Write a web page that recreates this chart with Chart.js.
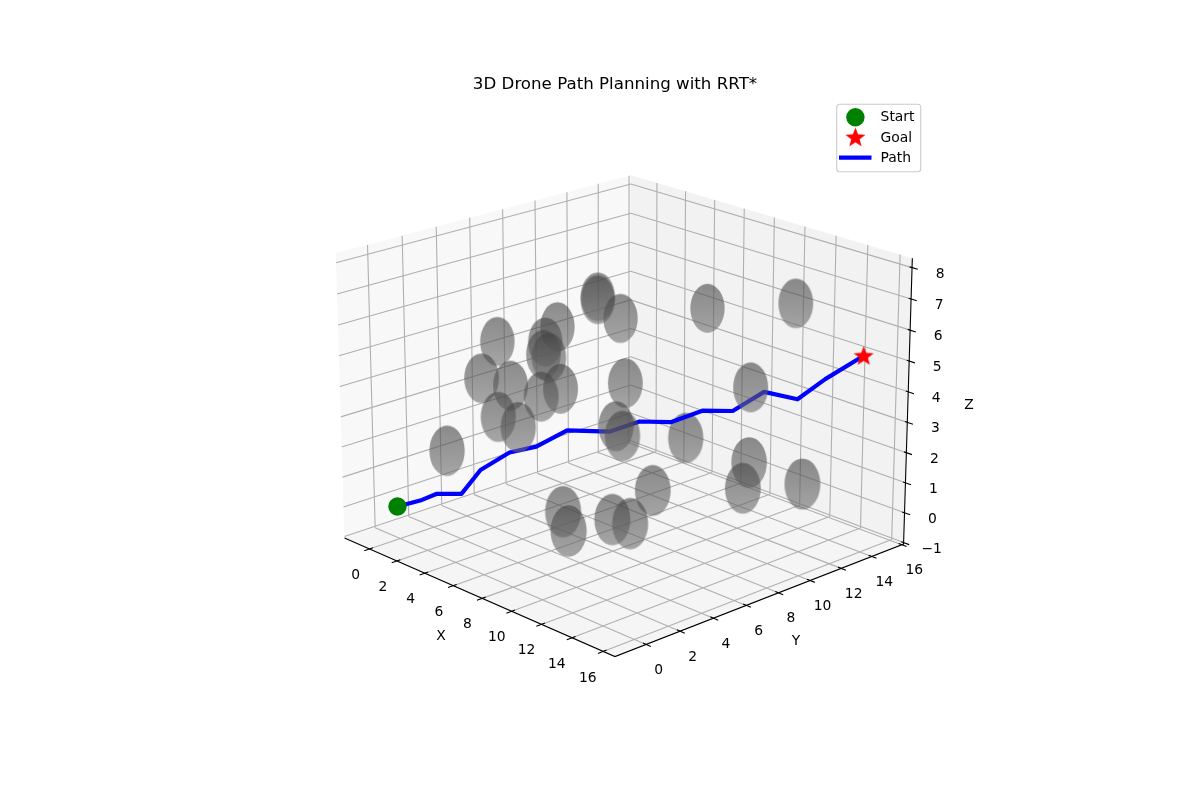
<!DOCTYPE html><html><head><meta charset="utf-8"><style>html,body{margin:0;padding:0;background:#fff}canvas{display:block}</style>
<script src="https://cdn.jsdelivr.net/npm/chart.js"></script></head><body><canvas id="c" width="1200" height="810"></canvas>
<script>
// ---------- data ----------
const xTicks=[0,2,4,6,8,10,12,14,16];
const yTicks=[0,2,4,6,8,10,12,14,16];
const zTicks=[-1,0,1,2,3,4,5,6,7,8];
const xLim=[-1.85,16.75],yLim=[-1.8,16.12],zLim=[-1.05,8.3];
const obsX=[2.0,2.0,3.8,6.2,10.6,1.67,1.8,2.45,2.27,0.17,1.27,2.75,4.37,3.74,3.37,4.55,6.0,10.63,2.8,7.27,8.0,10.03,13.08,13.9,15.83,11.0,9.17,9.87,10.77,11.33];
const obsY=[10.5,10.5,10.3,13.6,15.0,8.27,7.4,7.05,6.87,5.87,3.97,4.45,6.07,5.44,3.17,3.35,8.6,12.13,0.6,6.87,6.6,8.63,9.68,8.5,10.33,5.7,1.97,1.67,3.47,4.03];
const obsZ=[5.5,5.6,5.2,5.4,6.05,4.9,4.55,4.2,4.3,4.55,3.83,3.76,3.66,3.4,3.06,2.9,3.7,3.76,2.3,2.8,2.66,2.6,2.17,1.7,1.86,1.6,1.26,0.83,1.03,0.9];
const obsRadius=0.8;
const obsInFrontOfPath=[15,17,19,20];
const pathX=[0.02,0.84,1.34,2.14,2.77,3.77,4.64,5.64,7.05,8.03,9.03,10.07,11.07,12.07,13.17,14.07,15.28];
const pathY=[-0.13,0.66,1.14,1.94,2.57,3.47,4.34,5.34,6.65,7.63,8.63,9.62,10.57,11.57,12.62,13.47,14.68];
const pathZ=[0.06,0.29,0.5,0.5,1.3,1.9,2.1,2.64,2.62,2.96,2.94,3.33,3.33,3.96,3.73,4.4,5.16];
const titleText='3D Drone Path Planning with RRT*';
const axisNames=['X','Y','Z'];

// ---------- matplotlib-style 3D projection ----------
const ELEV=20,AZIM=-43.4;
const k=1.8294640721620434*25/24/Math.sqrt(41),box=[4*k,4*k,3*k*1.008];
const e=ELEV*Math.PI/180,a=AZIM*Math.PI/180;
const w=[Math.cos(e)*Math.cos(a),Math.cos(e)*Math.sin(a),Math.sin(e)];
const nrm=t=>{const n=Math.hypot(...t);return t.map(c=>c/n)};
const cross=(p,q)=>[p[1]*q[2]-p[2]*q[1],p[2]*q[0]-p[0]*q[2],p[0]*q[1]-p[1]*q[0]];
const dot=(p,q)=>p[0]*q[0]+p[1]*q[1]+p[2]*q[2];
const u=nrm(cross([0,0,1],w)),v=cross(w,u);
const lims=[xLim,yLim,zLim],sc=lims.map((l,i)=>box[i]/(l[1]-l[0]));
function viewVec(x,y,z){return [x,y,z].map((c,i)=>(c-lims[i][0])*sc[i]-box[i]/2-10*w[i])}
function P(x,y,z){const q=viewVec(x,y,z),d=-dot(q,w);return {x:dot(q,u)/d,y:dot(q,v)/d}}
const [x0,x1]=xLim,[y0,y1]=yLim,[z0,z1]=zLim;
const seg=(list,A,B)=>{list.push(P(...A),P(...B),{x:null,y:null})};
const poly=pts=>pts.map(p=>P(...p));

// ---------- frame ----------
const grid=[],ticks=[];
xTicks.forEach(t=>{seg(grid,[t,y0,z0],[t,y1,z0]);seg(grid,[t,y1,z0],[t,y1,z1]);seg(ticks,[t,y0-.3,z0],[t,y0+.2,z0])});
yTicks.forEach(t=>{seg(grid,[x1,t,z0],[x0,t,z0]);seg(grid,[x0,t,z0],[x0,t,z1]);seg(ticks,[x1-.2,t,z0],[x1+.3,t,z0])});
zTicks.forEach(t=>{seg(grid,[x0,y0,t],[x0,y1,t]);seg(grid,[x0,y1,t],[x1,y1,t]);seg(ticks,[x1-.15,y1,t],[x1+.35,y1,t])});
const paneLeft=poly([[x0,y0,z0],[x0,y1,z0],[x0,y1,z1],[x0,y0,z1],[x0,y0,z0]]);
const paneRight=poly([[x0,y1,z0],[x1,y1,z0],[x1,y1,z1],[x0,y1,z1],[x0,y1,z0]]);
const paneFloor=poly([[x0,y0,z0],[x1,y0,z0],[x1,y1,z0],[x0,y1,z0],[x0,y0,z0]]);
const axes=poly([[x0,y0,z0],[x1,y0,z0],[x1,y1,z0],[x1,y1,z1]]);

// ---------- sprites ----------
function sphereSprite(i){
  const q=viewVec(obsX[i],obsY[i],obsZ[i]),d=-dot(q,w),ppu=3373/d;
  const ext=dir=>obsRadius*Math.sqrt(dir.reduce((s,c,j)=>s+(c*sc[j])**2,0))*ppu;
  const hw=ext(u),hh=ext(v),cv=document.createElement('canvas');
  cv.width=Math.ceil(hw*2)+2;cv.height=Math.ceil(hh*2)+2;
  const g=cv.getContext('2d'),cx=cv.width/2,cy=cv.height/2;
  const ell=()=>{g.beginPath();g.ellipse(cx,cy,hw,hh,0,0,Math.PI*2)};
  ell();g.save();g.clip();
  const lg=g.createLinearGradient(0,cy-hh,0,cy+hh);
  lg.addColorStop(0,'rgba(66,66,66,.6)');lg.addColorStop(.25,'rgba(78,78,78,.6)');lg.addColorStop(.5,'rgba(88,88,88,.6)');lg.addColorStop(1,'rgba(112,112,112,.6)');
  g.fillStyle=lg;g.fillRect(0,0,cv.width,cv.height);
  g.lineWidth=1;g.strokeStyle='rgba(255,255,255,.012)';
  for(let m=1;m<=4;m++){g.beginPath();g.ellipse(cx,cy,m/4.5*hw,hh,0,0,Math.PI*2);g.stroke()}
  g.restore();
  return cv;
}
function starSprite(R){
  const cv=document.createElement('canvas');cv.width=cv.height=Math.ceil(R*2)+2;
  const g=cv.getContext('2d'),c=cv.width/2,rr=R*.42;g.beginPath();
  for(let i=0;i<10;i++){const r=i%2?rr:R,t=-Math.PI/2+i*Math.PI/5;g[i?'lineTo':'moveTo'](c+r*Math.cos(t),c+r*Math.sin(t)+R*.06)}
  g.closePath();g.fillStyle='#ff0000';g.fill();return cv;
}
const star=starSprite(10.5);
const idxBack=obsX.map((_,i)=>i).filter(i=>!obsInFrontOfPath.includes(i));
const sphereData=ids=>ids.map(i=>P(obsX[i],obsY[i],obsZ[i]));
const pathData=pathX.map((x,i)=>P(x,pathY[i],pathZ[i]));
const line=(label,data,color,width,order,extra)=>Object.assign({label,data,order,showLine:true,pointRadius:0,borderColor:color,borderWidth:width,clip:false,spanGaps:false,tension:0},extra||{});
const pane=(label,data,color,order)=>line(label,data,'rgba(0,0,0,0)',0,order,{fill:'shape',backgroundColor:color});

const datasets=[
 pane('paneLeft',paneLeft,'rgba(242,242,242,.5)',90),
 pane('paneRight',paneRight,'rgba(230,230,230,.5)',89),
 pane('paneFloor',paneFloor,'rgba(236,236,236,.5)',88),
 line('grid',grid,'#b0b0b0',1.11,80),
 line('axes',axes,'#000',1.11,79),
 line('ticks',ticks,'#000',1.11,78),
 {label:'Obstacles',data:sphereData(idxBack),order:60,clip:false,pointRadius:20,pointHoverRadius:20,pointStyle:idxBack.map(sphereSprite)},
 line('Path',pathData,'#0000ff',4.17,50,{borderCapStyle:'butt',borderJoinStyle:'round'}),
 {label:'Obstacles front',data:sphereData(obsInFrontOfPath),order:40,clip:false,pointRadius:20,pointStyle:obsInFrontOfPath.map(sphereSprite)},
 {label:'Start',data:[P(pathX[0],pathY[0],pathZ[0])],order:30,clip:false,pointRadius:9.2,backgroundColor:'#008000',borderWidth:0,pointBorderWidth:0},
 {label:'Goal',data:[P(pathX[pathX.length-1],pathY[pathY.length-1],pathZ[pathZ.length-1])],order:20,clip:false,pointRadius:11,pointStyle:star}
];

// ---------- text and legend ----------
const FONT='"DejaVu Sans"';
const labelsPlugin={id:'labels3d',afterDatasetsDraw(c){
  const g=c.ctx,X=c.scales.x,Y=c.scales.y,S=(x,y,z)=>{const p=P(x,y,z);return [X.getPixelForValue(p.x),Y.getPixelForValue(p.y)]};
  g.save();g.font='13.89px '+FONT;g.fillStyle='#000';g.textAlign='center';g.textBaseline='middle';
  const fmt=t=>String(t).replace('-','\u2212');
  xTicks.forEach(t=>{const [a,b]=S(t,y0,z0);g.fillText(fmt(t),a-13.8-t*.1,b+26.5)});
  yTicks.forEach(t=>{const [a,b]=S(x1,t,z0);g.fillText(fmt(t),a+12.5,b+26)});
  zTicks.forEach(t=>{const [a,b]=S(x1,y1,t);g.fillText(fmt(t),a+28,b+6.5)});
  g.fillText(axisNames[0],441,636);g.fillText(axisNames[1],796,641);g.fillText(axisNames[2],969,405);
  // legend frame
  g.beginPath();g.roundRect(836.7,104.3,84,67.4,3);g.fillStyle='rgba(255,255,255,.8)';g.fill();g.strokeStyle='#cccccc';g.lineWidth=1.11;g.stroke();
  g.fillStyle='#008000';g.beginPath();g.arc(855.4,117.2,9.2,0,Math.PI*2);g.fill();
  g.drawImage(star,855.4-star.width/2,137.3-star.height/2);
  g.strokeStyle='#0000ff';g.lineWidth=4.17;g.beginPath();g.moveTo(839,157.7);g.lineTo(871.5,157.7);g.stroke();
  g.fillStyle='#000';g.textAlign='left';
  ['Start','Goal','Path'].forEach((n,i)=>{const ds=c.data.datasets.find(d=>d.label===n);g.fillText(ds.label,880.6,117.6+i*20.4)});
  g.restore();
}};

new Chart(document.getElementById('c'),{type:'scatter',data:{datasets},plugins:[labelsPlugin],options:{
  animation:false,responsive:false,devicePixelRatio:1,events:[],
  layout:{padding:{left:303,right:273,top:0,bottom:89}},
  plugins:{legend:{display:false},tooltip:{enabled:false},
    title:{display:true,text:titleText,color:'#000',font:{family:'DejaVu Sans',size:16.67,weight:'normal',lineHeight:1.2},padding:{top:74.5,bottom:2.5}}},
  scales:{x:{display:false,min:-.095,max:.09},y:{display:false,min:-.095,max:.09}}
}});
</script></body></html>
